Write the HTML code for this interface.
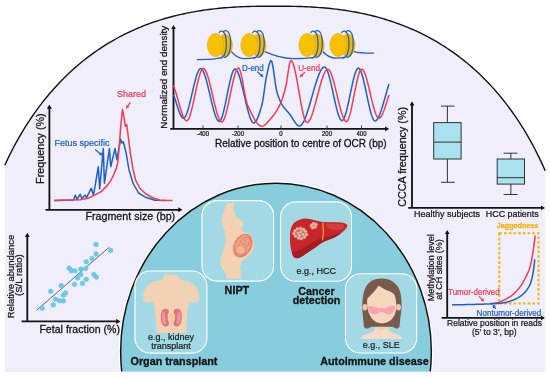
<!DOCTYPE html>
<html><head><meta charset="utf-8"><style>
html,body{margin:0;padding:0;background:#fff;width:550px;height:378px;overflow:hidden}
svg{display:block}
text{font-family:"Liberation Sans",Arial,sans-serif}
</style></head><body>
<svg width="550" height="378" viewBox="0 0 550 378">
<defs>
<clipPath id="lavclip"><rect x="5" y="0" width="540.5" height="372"/></clipPath>
<clipPath id="tealclip"><rect x="0" y="0" width="550" height="371.5"/></clipPath>
<marker id="ah" viewBox="0 0 10 10" refX="4" refY="5" markerWidth="4.3" markerHeight="5" preserveAspectRatio="none" orient="auto" markerUnits="userSpaceOnUse"><path d="M0,0 L10,5 L0,10 z" fill="#141414"/></marker>
<marker id="ahb" viewBox="0 0 10 10" refX="9" refY="5" markerWidth="4" markerHeight="4" orient="auto" markerUnits="userSpaceOnUse"><path d="M0,0 L10,5 L0,10 z" fill="#1f5fc8"/></marker>
<marker id="ahr" viewBox="0 0 10 10" refX="9" refY="5" markerWidth="4" markerHeight="4" orient="auto" markerUnits="userSpaceOnUse"><path d="M0,0 L10,5 L0,10 z" fill="#f43a4f"/></marker>
</defs>
<path d="M4.8,165.2 L7.52,159.39 L10.23,153.84 L12.95,148.52 L15.66,143.43 L18.38,138.54 L21.09,133.85 L23.81,129.33 L26.52,124.98 L29.24,120.79 L31.96,116.74 L34.67,112.84 L37.39,109.07 L40.1,105.43 L42.82,101.91 L45.53,98.5 L48.25,95.2 L50.96,92.01 L53.68,88.92 L56.4,85.92 L59.11,83.02 L61.83,80.21 L64.54,77.48 L67.26,74.83 L69.97,72.27 L72.69,69.78 L75.41,67.37 L78.12,65.03 L80.84,62.75 L83.55,60.55 L86.27,58.41 L88.98,56.34 L91.7,54.33 L94.41,52.37 L97.13,50.48 L99.85,48.64 L102.56,46.86 L105.28,45.14 L107.99,43.46 L110.71,41.84 L113.42,40.27 L116.14,38.74 L118.85,37.26 L121.57,35.83 L124.29,34.45 L127,33.11 L129.72,31.81 L132.43,30.56 L135.15,29.35 L137.86,28.18 L140.58,27.04 L143.29,25.95 L146.01,24.9 L148.73,23.88 L151.44,22.9 L154.16,21.95 L156.87,21.04 L159.59,20.17 L162.3,19.32 L165.02,18.52 L167.73,17.74 L170.45,16.99 L173.17,16.28 L175.88,15.6 L178.6,14.94 L181.31,14.32 L184.03,13.72 L186.74,13.15 L189.46,12.61 L192.17,12.1 L194.89,11.61 L197.61,11.15 L200.32,10.71 L203.04,10.3 L205.75,9.91 L208.47,9.55 L211.18,9.2 L213.9,8.88 L216.62,8.58 L219.33,8.31 L222.05,8.05 L224.76,7.81 L227.48,7.6 L230.19,7.4 L232.91,7.22 L235.62,7.05 L238.34,6.91 L241.06,6.78 L243.77,6.66 L246.49,6.56 L249.2,6.47 L251.92,6.4 L254.63,6.34 L257.35,6.29 L260.06,6.26 L262.78,6.23 L265.5,6.21 L268.21,6.2 L270.93,6.19 L273.64,6.19 L276.36,6.19 L279.07,6.2 L281.79,6.21 L284.5,6.23 L287.22,6.25 L289.94,6.29 L292.65,6.34 L295.37,6.4 L298.08,6.47 L300.8,6.55 L303.51,6.65 L306.23,6.76 L308.94,6.89 L311.66,7.04 L314.38,7.2 L317.09,7.38 L319.81,7.58 L322.52,7.79 L325.24,8.03 L327.95,8.28 L330.67,8.56 L333.38,8.85 L336.1,9.17 L338.82,9.51 L341.53,9.88 L344.25,10.26 L346.96,10.67 L349.68,11.11 L352.39,11.57 L355.11,12.05 L357.83,12.56 L360.54,13.1 L363.26,13.67 L365.97,14.26 L368.69,14.88 L371.4,15.53 L374.12,16.21 L376.83,16.93 L379.55,17.67 L382.27,18.44 L384.98,19.25 L387.7,20.09 L390.41,20.96 L393.13,21.87 L395.84,22.81 L398.56,23.78 L401.27,24.8 L403.99,25.85 L406.71,26.94 L409.42,28.07 L412.14,29.24 L414.85,30.44 L417.57,31.69 L420.28,32.99 L423,34.32 L425.71,35.7 L428.43,37.13 L431.15,38.6 L433.86,40.12 L436.58,41.69 L439.29,43.31 L442.01,44.98 L444.72,46.7 L447.44,48.47 L450.15,50.31 L452.87,52.19 L455.59,54.14 L458.3,56.15 L461.02,58.21 L463.73,60.35 L466.45,62.54 L469.16,64.81 L471.88,67.14 L474.59,69.55 L477.31,72.03 L480.03,74.59 L482.74,77.23 L485.46,79.94 L488.17,82.75 L490.89,85.64 L493.6,88.63 L496.32,91.71 L499.04,94.9 L501.75,98.18 L504.47,101.58 L507.18,105.09 L509.9,108.72 L512.61,112.48 L515.33,116.37 L518.04,120.4 L520.76,124.58 L523.48,128.91 L526.19,133.42 L528.91,138.09 L531.62,142.96 L534.34,148.04 L537.05,153.33 L539.77,158.86 L542.48,164.64 L545.2,170.71 L545.2,372 L4.8,372 Z" fill="#efeefa"/>
<path d="M4.8,165.2 L7.52,159.39 L10.23,153.84 L12.95,148.52 L15.66,143.43 L18.38,138.54 L21.09,133.85 L23.81,129.33 L26.52,124.98 L29.24,120.79 L31.96,116.74 L34.67,112.84 L37.39,109.07 L40.1,105.43 L42.82,101.91 L45.53,98.5 L48.25,95.2 L50.96,92.01 L53.68,88.92 L56.4,85.92 L59.11,83.02 L61.83,80.21 L64.54,77.48 L67.26,74.83 L69.97,72.27 L72.69,69.78 L75.41,67.37 L78.12,65.03 L80.84,62.75 L83.55,60.55 L86.27,58.41 L88.98,56.34 L91.7,54.33 L94.41,52.37 L97.13,50.48 L99.85,48.64 L102.56,46.86 L105.28,45.14 L107.99,43.46 L110.71,41.84 L113.42,40.27 L116.14,38.74 L118.85,37.26 L121.57,35.83 L124.29,34.45 L127,33.11 L129.72,31.81 L132.43,30.56 L135.15,29.35 L137.86,28.18 L140.58,27.04 L143.29,25.95 L146.01,24.9 L148.73,23.88 L151.44,22.9 L154.16,21.95 L156.87,21.04 L159.59,20.17 L162.3,19.32 L165.02,18.52 L167.73,17.74 L170.45,16.99 L173.17,16.28 L175.88,15.6 L178.6,14.94 L181.31,14.32 L184.03,13.72 L186.74,13.15 L189.46,12.61 L192.17,12.1 L194.89,11.61 L197.61,11.15 L200.32,10.71 L203.04,10.3 L205.75,9.91 L208.47,9.55 L211.18,9.2 L213.9,8.88 L216.62,8.58 L219.33,8.31 L222.05,8.05 L224.76,7.81 L227.48,7.6 L230.19,7.4 L232.91,7.22 L235.62,7.05 L238.34,6.91 L241.06,6.78 L243.77,6.66 L246.49,6.56 L249.2,6.47 L251.92,6.4 L254.63,6.34 L257.35,6.29 L260.06,6.26 L262.78,6.23 L265.5,6.21 L268.21,6.2 L270.93,6.19 L273.64,6.19 L276.36,6.19 L279.07,6.2 L281.79,6.21 L284.5,6.23 L287.22,6.25 L289.94,6.29 L292.65,6.34 L295.37,6.4 L298.08,6.47 L300.8,6.55 L303.51,6.65 L306.23,6.76 L308.94,6.89 L311.66,7.04 L314.38,7.2 L317.09,7.38 L319.81,7.58 L322.52,7.79 L325.24,8.03 L327.95,8.28 L330.67,8.56 L333.38,8.85 L336.1,9.17 L338.82,9.51 L341.53,9.88 L344.25,10.26 L346.96,10.67 L349.68,11.11 L352.39,11.57 L355.11,12.05 L357.83,12.56 L360.54,13.1 L363.26,13.67 L365.97,14.26 L368.69,14.88 L371.4,15.53 L374.12,16.21 L376.83,16.93 L379.55,17.67 L382.27,18.44 L384.98,19.25 L387.7,20.09 L390.41,20.96 L393.13,21.87 L395.84,22.81 L398.56,23.78 L401.27,24.8 L403.99,25.85 L406.71,26.94 L409.42,28.07 L412.14,29.24 L414.85,30.44 L417.57,31.69 L420.28,32.99 L423,34.32 L425.71,35.7 L428.43,37.13 L431.15,38.6 L433.86,40.12 L436.58,41.69 L439.29,43.31 L442.01,44.98 L444.72,46.7 L447.44,48.47 L450.15,50.31 L452.87,52.19 L455.59,54.14 L458.3,56.15 L461.02,58.21 L463.73,60.35 L466.45,62.54 L469.16,64.81 L471.88,67.14 L474.59,69.55 L477.31,72.03 L480.03,74.59 L482.74,77.23 L485.46,79.94 L488.17,82.75 L490.89,85.64 L493.6,88.63 L496.32,91.71 L499.04,94.9 L501.75,98.18 L504.47,101.58 L507.18,105.09 L509.9,108.72 L512.61,112.48 L515.33,116.37 L518.04,120.4 L520.76,124.58 L523.48,128.91 L526.19,133.42 L528.91,138.09 L531.62,142.96 L534.34,148.04 L537.05,153.33 L539.77,158.86 L542.48,164.64 L545.2,170.71" fill="none" stroke="#141414" stroke-width="1.4"/>
<g clip-path="url(#tealclip)"><ellipse cx="276" cy="351.5" rx="155.35" ry="168.35" fill="none" stroke="#ffffff" stroke-width="4"/><ellipse cx="276" cy="351.5" rx="155.35" ry="168.35" fill="#88cddd" stroke="#141414" stroke-width="1.5"/></g>
<line x1="173.5" y1="128.9" x2="173.50" y2="27.58" stroke="#141414" stroke-width="1.85" marker-end="url(#ah)"/>
<line x1="170.2" y1="128.9" x2="386.52" y2="128.90" stroke="#141414" stroke-width="1.85" marker-end="url(#ah)"/>
<line x1="203" y1="125.5" x2="203" y2="128.5" stroke="#141414" stroke-width="0.8"/>
<line x1="238" y1="125.5" x2="238" y2="128.5" stroke="#141414" stroke-width="0.8"/>
<line x1="281" y1="125.5" x2="281" y2="128.5" stroke="#141414" stroke-width="0.8"/>
<line x1="327" y1="125.5" x2="327" y2="128.5" stroke="#141414" stroke-width="0.8"/>
<line x1="361.5" y1="125.5" x2="361.5" y2="128.5" stroke="#141414" stroke-width="0.8"/>
<text transform="translate(203,135.6) scale(1,1.07)" font-size="6" text-anchor="middle" fill="#141414" stroke="#141414" stroke-width="0.22">-400</text>
<text transform="translate(238,135.6) scale(1,1.07)" font-size="6" text-anchor="middle" fill="#141414" stroke="#141414" stroke-width="0.22">-200</text>
<text transform="translate(281,135.6) scale(1,1.07)" font-size="6" text-anchor="middle" fill="#141414" stroke="#141414" stroke-width="0.22">0</text>
<text transform="translate(327,135.6) scale(1,1.07)" font-size="6" text-anchor="middle" fill="#141414" stroke="#141414" stroke-width="0.22">200</text>
<text transform="translate(361.5,135.6) scale(1,1.07)" font-size="6" text-anchor="middle" fill="#141414" stroke="#141414" stroke-width="0.22">400</text>
<text transform="translate(300.8,146.5) scale(1,1.07)" font-size="10" text-anchor="middle" fill="#141414" stroke="#141414" stroke-width="0.28">Relative position to centre of OCR (bp)</text>
<text transform="translate(166.9,77.2) rotate(-90)" font-size="9.86" text-anchor="middle" fill="#141414" stroke="#141414" stroke-width="0.28">Normalized end density</text>
<path d="M173.5,94.85 L174.22,96.8 L174.94,98.89 L175.66,101.09 L176.38,103.33 L177.1,105.57 L177.82,107.78 L178.55,109.89 L179.27,111.86 L179.99,113.65 L180.71,115.21 L181.43,116.49 L182.15,117.44 L182.87,118.03 L183.59,118.2 L184.31,117.88 L185.03,117.09 L185.75,115.87 L186.47,114.26 L187.19,112.31 L187.91,110.06 L188.64,107.55 L189.36,104.84 L190.08,101.96 L190.8,98.95 L191.52,95.87 L192.24,92.75 L192.96,89.64 L193.68,86.58 L194.4,83.61 L195.12,80.79 L195.84,78.15 L196.56,75.74 L197.28,73.6 L198.01,71.78 L198.73,70.31 L199.45,69.25 L200.17,68.64 L200.89,68.52 L201.61,68.87 L202.33,69.66 L203.05,70.84 L203.77,72.39 L204.49,74.26 L205.21,76.41 L205.93,78.8 L206.65,81.41 L207.37,84.19 L208.1,87.1 L208.82,90.11 L209.54,93.18 L210.26,96.27 L210.98,99.34 L211.7,102.36 L212.42,105.29 L213.14,108.09 L213.86,110.73 L214.58,113.16 L215.3,115.35 L216.02,117.26 L216.74,118.85 L217.46,120.09 L218.19,120.94 L218.91,121.36 L219.63,121.29 L220.35,120.61 L221.07,119.37 L221.79,117.64 L222.51,115.46 L223.23,112.91 L223.95,110.03 L224.67,106.9 L225.39,103.56 L226.11,100.08 L226.83,96.52 L227.56,92.94 L228.28,89.39 L229,85.95 L229.72,82.66 L230.44,79.58 L231.16,76.79 L231.88,74.32 L232.6,72.26 L233.32,70.65 L234.04,69.55 L234.76,69.04 L235.48,69.11 L236.2,69.64 L236.92,70.58 L237.65,71.91 L238.37,73.57 L239.09,75.55 L239.81,77.79 L240.53,80.26 L241.25,82.93 L241.97,85.76 L242.69,88.72 L243.41,91.76 L244.13,94.85 L244.85,97.95 L245.57,101.03 L246.29,104.05 L247.02,106.98 L247.74,109.77 L248.46,112.39 L249.18,114.81 L249.9,116.99 L250.62,118.88 L251.34,120.47 L252.06,121.7 L252.78,122.54 L253.5,122.96 L254.22,122.93 L254.94,122.5 L255.66,121.71 L256.38,120.59 L257.11,119.18 L257.83,117.52 L258.55,115.64 L259.27,113.57 L259.99,111.35 L260.71,109.02 L261.43,106.6 L262.15,104.05 L262.87,100.38 L263.59,95.7 L264.31,90.51 L265.03,85.27 L265.75,80.48 L266.47,76.61 L267.2,73.3 L267.92,69.9 L268.64,66.67 L269.36,63.9 L270.08,61.82 L270.8,60.71 L271.52,60.97 L272.24,63.11 L272.96,66.75 L273.68,71.41 L274.4,76.6 L275.12,81.85 L275.84,86.67 L276.57,90.58 L277.29,93.23 L278.01,95.42 L278.73,97.42 L279.45,99.24 L280.17,100.91 L280.89,102.42 L281.61,103.8 L282.33,105.05 L283.05,106.19 L283.77,107.24 L284.49,108.2 L285.21,109.09 L285.93,109.94 L286.66,110.75 L287.38,111.56 L288.1,112.36 L288.82,113.19 L289.54,114.05 L290.26,114.99 L290.98,116.03 L291.7,117.13 L292.42,118.27 L293.14,119.42 L293.86,120.56 L294.58,121.66 L295.3,122.69 L296.03,123.63 L296.75,124.44 L297.47,125.12 L298.19,125.62 L298.91,125.92 L299.63,126 L300.35,125.8 L301.07,125.33 L301.79,124.6 L302.51,123.64 L303.23,122.45 L303.95,121.05 L304.67,119.46 L305.39,117.71 L306.12,115.79 L306.84,113.74 L307.56,111.57 L308.28,109.29 L309,106.92 L309.72,104.48 L310.44,101.99 L311.16,99.47 L311.88,96.92 L312.6,94.37 L313.32,91.83 L314.04,89.33 L314.76,86.87 L315.48,84.48 L316.21,82.17 L316.93,79.96 L317.65,77.87 L318.37,75.91 L319.09,74.1 L319.81,72.45 L320.53,70.99 L321.25,69.73 L321.97,68.69 L322.69,67.88 L323.41,67.32 L324.13,67.04 L324.85,67.07 L325.58,67.58 L326.3,68.58 L327.02,70.01 L327.74,71.82 L328.46,73.99 L329.18,76.45 L329.9,79.16 L330.62,82.08 L331.34,85.17 L332.06,88.37 L332.78,91.65 L333.5,94.96 L334.22,98.26 L334.94,101.49 L335.67,104.62 L336.39,107.59 L337.11,110.37 L337.83,112.91 L338.55,115.17 L339.27,117.09 L339.99,118.64 L340.71,119.77 L341.43,120.43 L342.15,120.59 L342.87,120.17 L343.59,119.21 L344.31,117.76 L345.04,115.87 L345.76,113.6 L346.48,111 L347.2,108.12 L347.92,105.02 L348.64,101.76 L349.36,98.37 L350.08,94.92 L350.8,91.47 L351.52,88.06 L352.24,84.75 L352.96,81.58 L353.68,78.63 L354.4,75.93 L355.13,73.54 L355.85,71.52 L356.57,69.92 L357.29,68.79 L358.01,68.19 L358.73,68.16 L359.45,68.71 L360.17,69.78 L360.89,71.32 L361.61,73.28 L362.33,75.6 L363.05,78.24 L363.77,81.14 L364.49,84.26 L365.22,87.53 L365.94,90.91 L366.66,94.35 L367.38,97.78 L368.1,101.17 L368.82,104.46 L369.54,107.6 L370.26,110.53 L370.98,113.2 L371.7,115.57 L372.42,117.57 L373.14,119.16 L373.86,120.29 L374.59,120.9 L375.31,120.97 L376.03,120.65 L376.75,120 L377.47,119.06 L378.19,117.85 L378.91,116.39 L379.63,114.7 L380.35,112.82 L381.07,110.77 L381.79,108.57 L382.51,106.24 L383.23,103.82 L383.95,101.33 L384.68,98.8 L385.4,96.24 L386.12,93.68 L386.84,91.15 L387.56,88.68 L388.28,86.29 L389,84" fill="none" stroke="#1f5fc8" stroke-width="1.5"/>
<path d="M173.5,85.59 L174.22,87.5 L174.94,89.61 L175.66,91.89 L176.38,94.29 L177.1,96.78 L177.82,99.33 L178.55,101.89 L179.27,104.44 L179.99,106.93 L180.71,109.33 L181.43,111.59 L182.15,113.7 L182.87,115.59 L183.59,117.26 L184.31,118.64 L185.03,119.71 L185.75,120.44 L186.47,120.78 L187.19,120.66 L187.91,120 L188.64,118.83 L189.36,117.21 L190.08,115.19 L190.8,112.81 L191.52,110.14 L192.24,107.22 L192.96,104.1 L193.68,100.83 L194.4,97.47 L195.12,94.07 L195.84,90.68 L196.56,87.35 L197.28,84.13 L198.01,81.07 L198.73,78.23 L199.45,75.65 L200.17,73.39 L200.89,71.49 L201.61,70.02 L202.33,69.02 L203.05,68.54 L203.77,68.6 L204.49,69.14 L205.21,70.09 L205.93,71.44 L206.65,73.13 L207.37,75.13 L208.1,77.4 L208.82,79.91 L209.54,82.62 L210.26,85.48 L210.98,88.46 L211.7,91.53 L212.42,94.64 L213.14,97.75 L213.86,100.84 L214.58,103.86 L215.3,106.77 L216.02,109.53 L216.74,112.12 L217.46,114.48 L218.19,116.58 L218.91,118.39 L219.63,119.86 L220.35,120.96 L221.07,121.66 L221.79,121.9 L222.51,121.62 L223.23,120.78 L223.95,119.45 L224.67,117.67 L225.39,115.49 L226.11,112.97 L226.83,110.16 L227.56,107.11 L228.28,103.87 L229,100.5 L229.72,97.04 L230.44,93.56 L231.16,90.09 L231.88,86.7 L232.6,83.43 L233.32,80.34 L234.04,77.47 L234.76,74.89 L235.48,72.64 L236.2,70.78 L236.92,69.35 L237.65,68.41 L238.37,68.01 L239.09,68.36 L239.81,69.71 L240.53,71.9 L241.25,74.78 L241.97,78.19 L242.69,81.96 L243.41,85.94 L244.13,89.98 L244.85,93.9 L245.57,97.55 L246.29,100.77 L247.02,103.4 L247.74,105.31 L248.46,106.93 L249.18,108.54 L249.9,110.13 L250.62,111.69 L251.34,113.21 L252.06,114.69 L252.78,116.12 L253.5,117.49 L254.22,118.78 L254.94,120.01 L255.66,121.14 L256.38,122.19 L257.11,123.13 L257.83,123.97 L258.55,124.69 L259.27,125.29 L259.99,125.76 L260.71,126.09 L261.43,126.27 L262.15,126.29 L262.87,126.14 L263.59,125.83 L264.31,125.39 L265.03,124.83 L265.75,124.17 L266.47,123.45 L267.2,122.66 L267.92,121.85 L268.64,121.02 L269.36,120.2 L270.08,119.42 L270.8,118.62 L271.52,117.8 L272.24,116.93 L272.96,116.02 L273.68,115.07 L274.4,114.07 L275.12,113.02 L275.84,111.92 L276.57,110.76 L277.29,109.55 L278.01,108.28 L278.73,106.94 L279.45,105.54 L280.17,104.07 L280.89,102.46 L281.61,100.66 L282.33,98.66 L283.05,96.5 L283.77,94.17 L284.49,91.69 L285.21,89.07 L285.93,86.1 L286.66,82.06 L287.38,77.32 L288.1,72.39 L288.82,67.75 L289.54,63.89 L290.26,61.32 L290.98,60.5 L291.7,60.95 L292.42,62.06 L293.14,63.78 L293.86,66.04 L294.58,68.76 L295.3,71.9 L296.03,75.37 L296.75,79.12 L297.47,83.06 L298.19,87.15 L298.91,91.31 L299.63,95.47 L300.35,99.57 L301.07,103.53 L301.79,107.3 L302.51,110.81 L303.23,113.99 L303.95,116.77 L304.67,119.09 L305.39,120.87 L306.12,122.06 L306.84,122.58 L307.56,122.49 L308.28,122.02 L309,121.22 L309.72,120.1 L310.44,118.7 L311.16,117.05 L311.88,115.16 L312.6,113.07 L313.32,110.8 L314.04,108.38 L314.76,105.83 L315.48,103.19 L316.21,100.48 L316.93,97.72 L317.65,94.95 L318.37,92.18 L319.09,89.45 L319.81,86.79 L320.53,84.21 L321.25,81.75 L321.97,79.43 L322.69,77.28 L323.41,75.32 L324.13,73.59 L324.85,72.11 L325.58,70.9 L326.3,70 L327.02,69.42 L327.74,69.2 L328.46,69.39 L329.18,70.02 L329.9,71.05 L330.62,72.44 L331.34,74.17 L332.06,76.18 L332.78,78.45 L333.5,80.94 L334.22,83.61 L334.94,86.42 L335.67,89.35 L336.39,92.35 L337.11,95.38 L337.83,98.41 L338.55,101.41 L339.27,104.33 L339.99,107.15 L340.71,109.81 L341.43,112.3 L342.15,114.56 L342.87,116.57 L343.59,118.29 L344.31,119.67 L345.04,120.7 L345.76,121.32 L346.48,121.5 L347.2,121.09 L347.92,120.06 L348.64,118.47 L349.36,116.39 L350.08,113.88 L350.8,111.01 L351.52,107.84 L352.24,104.45 L352.96,100.88 L353.68,97.23 L354.4,93.53 L355.13,89.87 L355.85,86.31 L356.57,82.91 L357.29,79.74 L358.01,76.87 L358.73,74.35 L359.45,72.26 L360.17,70.66 L360.89,69.62 L361.61,69.21 L362.33,69.39 L363.05,70.06 L363.77,71.17 L364.49,72.66 L365.22,74.5 L365.94,76.65 L366.66,79.06 L367.38,81.69 L368.1,84.5 L368.82,87.44 L369.54,90.46 L370.26,93.53 L370.98,96.61 L371.7,99.64 L372.42,102.59 L373.14,105.41 L373.86,108.06 L374.59,110.5 L375.31,112.68 L376.03,114.55 L376.75,116.09 L377.47,117.24 L378.19,117.96 L378.91,118.2 L379.63,118 L380.35,117.45 L381.07,116.57 L381.79,115.39 L382.51,113.96 L383.23,112.31 L383.95,110.47 L384.68,108.47 L385.4,106.35 L386.12,104.14 L386.84,101.87 L387.56,99.59 L388.28,97.32 L389,95.1" fill="none" stroke="#f43a4f" stroke-width="1.5"/>
<text transform="translate(242,71.2) scale(1,1.07)" font-size="8" fill="#1f5fc8" stroke="#1f5fc8" stroke-width="0.22">D-end</text>
<line x1="257.2" y1="71.6" x2="261.33" y2="75.27" stroke="#1f5fc8" stroke-width="1.2"/>
<path d="M263.50,77.20 L259.73,76.32 L262.19,73.56 Z" fill="#1f5fc8"/>
<text transform="translate(298.2,71.2) scale(1,1.07)" font-size="8" fill="#f43a4f" stroke="#f43a4f" stroke-width="0.22">U-end</text>
<line x1="304.9" y1="72.3" x2="301.71" y2="75.31" stroke="#f43a4f" stroke-width="1.2"/>
<path d="M299.60,77.30 L300.80,73.62 L303.34,76.31 Z" fill="#f43a4f"/>
<path d="M197.3,59.6 C207,59.6 214,59.8 221.5,57.4 M231.4,51.7 C234,55 238,58.5 244,58.6 C248,58.6 252,58.2 255.1,57.4 M265,51.7 C272,55 282,58.4 293,58.6 C302,58.6 308,58.4 313.2,57.4 M323.1,51.7 C326,55 330,58 336,58.2 C339.5,58.2 342,57.9 344.1,57.4 M354,51.7 C360,53.3 366,53.3 373.5,53.2" fill="none" stroke="#1f5fc8" stroke-width="1.3" stroke-linecap="round"/>
<ellipse cx="225.0" cy="45.3" rx="7.6" ry="11.4" fill="#f3b800" stroke="#e0a200" stroke-width="0.3"/>
<ellipse cx="215.5" cy="45" rx="8.3" ry="11.6" fill="#f8c100" stroke="#e0a200" stroke-width="0.45"/>
<path d="M219.20,32.60 C220.00,30.40 223.60,30.40 225.10,34.50 C226.70,39.00 226.90,47.00 225.40,52.00 C224.50,55.50 222.50,57.80 220.10,58.10" fill="none" stroke="#1f5fc8" stroke-width="1.25" stroke-linecap="round"/>
<path d="M223.40,32.00 C224.20,29.80 227.80,29.80 229.30,33.90 C230.90,38.40 231.10,46.40 229.60,51.40 C228.70,54.90 226.70,57.20 224.30,57.50" fill="none" stroke="#1f5fc8" stroke-width="1.25" stroke-linecap="round"/>
<ellipse cx="258.6" cy="45.3" rx="7.6" ry="11.4" fill="#f3b800" stroke="#e0a200" stroke-width="0.3"/>
<ellipse cx="249.1" cy="45" rx="8.3" ry="11.6" fill="#f8c100" stroke="#e0a200" stroke-width="0.45"/>
<path d="M252.80,32.60 C253.60,30.40 257.20,30.40 258.70,34.50 C260.30,39.00 260.50,47.00 259.00,52.00 C258.10,55.50 256.10,57.80 253.70,58.10" fill="none" stroke="#1f5fc8" stroke-width="1.25" stroke-linecap="round"/>
<path d="M257.00,32.00 C257.80,29.80 261.40,29.80 262.90,33.90 C264.50,38.40 264.70,46.40 263.20,51.40 C262.30,54.90 260.30,57.20 257.90,57.50" fill="none" stroke="#1f5fc8" stroke-width="1.25" stroke-linecap="round"/>
<ellipse cx="316.7" cy="45.3" rx="7.6" ry="11.4" fill="#f3b800" stroke="#e0a200" stroke-width="0.3"/>
<ellipse cx="307.2" cy="45" rx="8.3" ry="11.6" fill="#f8c100" stroke="#e0a200" stroke-width="0.45"/>
<path d="M310.90,32.60 C311.70,30.40 315.30,30.40 316.80,34.50 C318.40,39.00 318.60,47.00 317.10,52.00 C316.20,55.50 314.20,57.80 311.80,58.10" fill="none" stroke="#1f5fc8" stroke-width="1.25" stroke-linecap="round"/>
<path d="M315.10,32.00 C315.90,29.80 319.50,29.80 321.00,33.90 C322.60,38.40 322.80,46.40 321.30,51.40 C320.40,54.90 318.40,57.20 316.00,57.50" fill="none" stroke="#1f5fc8" stroke-width="1.25" stroke-linecap="round"/>
<ellipse cx="347.6" cy="45.3" rx="7.6" ry="11.4" fill="#f3b800" stroke="#e0a200" stroke-width="0.3"/>
<ellipse cx="338.1" cy="45" rx="8.3" ry="11.6" fill="#f8c100" stroke="#e0a200" stroke-width="0.45"/>
<path d="M341.80,32.60 C342.60,30.40 346.20,30.40 347.70,34.50 C349.30,39.00 349.50,47.00 348.00,52.00 C347.10,55.50 345.10,57.80 342.70,58.10" fill="none" stroke="#1f5fc8" stroke-width="1.25" stroke-linecap="round"/>
<path d="M346.00,32.00 C346.80,29.80 350.40,29.80 351.90,33.90 C353.50,38.40 353.70,46.40 352.20,51.40 C351.30,54.90 349.30,57.20 346.90,57.50" fill="none" stroke="#1f5fc8" stroke-width="1.25" stroke-linecap="round"/>
<line x1="49.4" y1="209.8" x2="49.40" y2="106.98" stroke="#141414" stroke-width="1.85" marker-end="url(#ah)"/>
<line x1="45.5" y1="209.8" x2="179.92" y2="209.80" stroke="#141414" stroke-width="1.85" marker-end="url(#ah)"/>
<text transform="translate(44.2,148.6) rotate(-90)" font-size="10.77" text-anchor="middle" fill="#141414" stroke="#141414" stroke-width="0.28">Frequency (%)</text>
<text transform="translate(130.3,220) scale(1,1.07)" font-size="10.7" text-anchor="middle" fill="#141414" stroke="#141414" stroke-width="0.28">Fragment size (bp)</text>
<path d="M54,200.4 L73.5,200 L75.4,195.2 L77,199.5 L80.2,194.2 L81.8,198.5 L85,195.2 L86.6,197.5 L91.3,188.2 L93.5,195.5 L98.3,166.7 L99.7,188.9 L103.3,148.6 L104.4,183.3 L109.4,148.6 L110.8,166.7 L115,148.6 L116.9,159.7 L120.6,138.9 L121.9,143 L123.3,141.7 L126.1,152.8 L128.9,169.4 L133,183.3 L138.6,193 L145.4,197.2 L155,200.2 L166,200.6" fill="none" stroke="#1f5fc8" stroke-width="1.5" stroke-linejoin="round"/>
<path d="M54,200.4 L80,199.8 L88,198.3 L95.6,194.6 L101.1,191.7 L106.7,186.1 L110.8,180.6 L113.6,175 L116.4,168 L117.8,162.5 L119.2,147.2 L120.6,127.8 L122.5,109.5 L123.9,116.7 L125.3,126.2 L126.7,124.6 L128,134.7 L130.3,152.8 L133,169.4 L135.8,180.6 L140,188.5 L145.4,193.5 L152,197.5 L160,200.2 L172.6,200.4" fill="none" stroke="#f43a4f" stroke-width="1.5" stroke-linejoin="round"/>
<text transform="translate(54.4,146) scale(1,1.07)" font-size="9" fill="#1f5fc8" stroke="#1f5fc8" stroke-width="0.22">Fetus specific</text>
<line x1="95.2" y1="149.5" x2="100.57" y2="153.95" stroke="#1f5fc8" stroke-width="1.2"/>
<path d="M102.80,155.80 L99.00,155.05 L101.36,152.21 Z" fill="#1f5fc8"/>
<text transform="translate(117.1,97.3) scale(1,1.07)" font-size="9" fill="#f43a4f" stroke="#f43a4f" stroke-width="0.22">Shared</text>
<line x1="130.4" y1="102.3" x2="127.63" y2="106.40" stroke="#f43a4f" stroke-width="1.2"/>
<path d="M126.00,108.80 L126.37,104.95 L129.44,107.02 Z" fill="#f43a4f"/>
<line x1="412" y1="207.9" x2="412.00" y2="103.88" stroke="#141414" stroke-width="1.85" marker-end="url(#ah)"/>
<line x1="408.2" y1="207.9" x2="542.42" y2="207.90" stroke="#141414" stroke-width="1.85" marker-end="url(#ah)"/>
<text transform="translate(406.3,156.8) rotate(-90)" font-size="10.75" text-anchor="middle" fill="#141414" stroke="#141414" stroke-width="0.28">CCCA frequency (%)</text>
<text transform="translate(414.1,217.4) scale(1,1.07)" font-size="9" fill="#141414" stroke="#141414" stroke-width="0.22">Healthy subjects</text>
<text transform="translate(485.8,217.4) scale(1,1.07)" font-size="8.9" fill="#141414" stroke="#141414" stroke-width="0.22">HCC patients</text>
<line x1="447.4" y1="106.1" x2="447.4" y2="182.3" stroke="#333" stroke-width="1"/>
<line x1="441" y1="106.1" x2="454.7" y2="106.1" stroke="#333" stroke-width="1"/>
<line x1="441" y1="182.3" x2="454.7" y2="182.3" stroke="#333" stroke-width="1"/>
<rect x="433.7" y="122.6" width="27.400000000000034" height="36.400000000000006" fill="#a9e1ef" stroke="#333" stroke-width="1"/>
<line x1="433.7" y1="142.1" x2="461.1" y2="142.1" stroke="#333" stroke-width="1"/>
<line x1="510.85" y1="153.2" x2="510.85" y2="194.5" stroke="#333" stroke-width="1"/>
<line x1="503.6" y1="153.2" x2="517.5" y2="153.2" stroke="#333" stroke-width="1"/>
<line x1="503.6" y1="194.5" x2="517.5" y2="194.5" stroke="#333" stroke-width="1"/>
<rect x="497.2" y="159" width="27.30000000000001" height="25.099999999999994" fill="#a9e1ef" stroke="#333" stroke-width="1"/>
<line x1="497.2" y1="177.7" x2="524.5" y2="177.7" stroke="#333" stroke-width="1"/>
<line x1="27.3" y1="321.4" x2="27.30" y2="235.38" stroke="#141414" stroke-width="1.85" marker-end="url(#ah)"/>
<line x1="21.6" y1="321.4" x2="117.92" y2="321.40" stroke="#141414" stroke-width="1.85" marker-end="url(#ah)"/>
<text transform="translate(13.9,276.5) rotate(-90)" font-size="9.45" text-anchor="middle" fill="#141414" stroke="#141414" stroke-width="0.22">Relative abundance</text>
<text transform="translate(22.4,275.1) rotate(-90)" font-size="9.6" text-anchor="middle" fill="#141414" stroke="#141414" stroke-width="0.28">(S/L ratio)</text>
<text transform="translate(39.4,332.6) scale(1,1.07)" font-size="10.6" fill="#141414" stroke="#141414" stroke-width="0.28">Fetal fraction (%)</text>
<line x1="36.5" y1="310.4" x2="109.4" y2="247" stroke="#4a4a4a" stroke-width="0.85"/>
<circle cx="42.17" cy="308.14" r="2.35" fill="#6ccbea" stroke="#52badf" stroke-width="0.4"/>
<circle cx="53.27" cy="304.97" r="2.35" fill="#6ccbea" stroke="#52badf" stroke-width="0.4"/>
<circle cx="55.49" cy="299.26" r="2.35" fill="#6ccbea" stroke="#52badf" stroke-width="0.4"/>
<circle cx="59.61" cy="300.85" r="2.35" fill="#6ccbea" stroke="#52badf" stroke-width="0.4"/>
<circle cx="63.41" cy="300.85" r="2.35" fill="#6ccbea" stroke="#52badf" stroke-width="0.4"/>
<circle cx="63.41" cy="295.14" r="2.35" fill="#6ccbea" stroke="#52badf" stroke-width="0.4"/>
<circle cx="65.63" cy="292.92" r="2.35" fill="#6ccbea" stroke="#52badf" stroke-width="0.4"/>
<circle cx="50.73" cy="291.34" r="2.35" fill="#6ccbea" stroke="#52badf" stroke-width="0.4"/>
<circle cx="61.19" cy="285.63" r="2.35" fill="#6ccbea" stroke="#52badf" stroke-width="0.4"/>
<circle cx="74.51" cy="284.36" r="2.35" fill="#6ccbea" stroke="#52badf" stroke-width="0.4"/>
<circle cx="82.44" cy="283.41" r="2.35" fill="#6ccbea" stroke="#52badf" stroke-width="0.4"/>
<circle cx="86.24" cy="279.29" r="2.35" fill="#6ccbea" stroke="#52badf" stroke-width="0.4"/>
<circle cx="77.68" cy="278.02" r="2.35" fill="#6ccbea" stroke="#52badf" stroke-width="0.4"/>
<circle cx="80.85" cy="274.53" r="2.35" fill="#6ccbea" stroke="#52badf" stroke-width="0.4"/>
<circle cx="93.85" cy="274.53" r="2.35" fill="#6ccbea" stroke="#52badf" stroke-width="0.4"/>
<circle cx="96.39" cy="277.07" r="2.35" fill="#6ccbea" stroke="#52badf" stroke-width="0.4"/>
<circle cx="69.12" cy="268.19" r="2.35" fill="#6ccbea" stroke="#52badf" stroke-width="0.4"/>
<circle cx="71.34" cy="270.73" r="2.35" fill="#6ccbea" stroke="#52badf" stroke-width="0.4"/>
<circle cx="74.83" cy="270.73" r="2.35" fill="#6ccbea" stroke="#52badf" stroke-width="0.4"/>
<circle cx="80.85" cy="269.14" r="2.35" fill="#6ccbea" stroke="#52badf" stroke-width="0.4"/>
<circle cx="85.61" cy="268.51" r="2.35" fill="#6ccbea" stroke="#52badf" stroke-width="0.4"/>
<circle cx="86.24" cy="261.85" r="2.35" fill="#6ccbea" stroke="#52badf" stroke-width="0.4"/>
<circle cx="91.95" cy="258.68" r="2.35" fill="#6ccbea" stroke="#52badf" stroke-width="0.4"/>
<circle cx="96.07" cy="253.93" r="2.35" fill="#6ccbea" stroke="#52badf" stroke-width="0.4"/>
<circle cx="96.07" cy="244.41" r="2.35" fill="#6ccbea" stroke="#52badf" stroke-width="0.4"/>
<circle cx="110.65" cy="250.44" r="2.35" fill="#6ccbea" stroke="#52badf" stroke-width="0.4"/>
<line x1="447.2" y1="317.9" x2="447.20" y2="232.58" stroke="#141414" stroke-width="1.85" marker-end="url(#ah)"/>
<line x1="441.6" y1="317.9" x2="542.42" y2="317.90" stroke="#141414" stroke-width="1.85" marker-end="url(#ah)"/>
<text transform="rotate(-90) translate(-267.7,433.6)" font-size="9" text-anchor="middle" fill="#141414" stroke="#141414" stroke-width="0.22">Methylation level</text>
<text transform="rotate(-90) translate(-269.6,442.2)" font-size="9" text-anchor="middle" fill="#141414" stroke="#141414" stroke-width="0.22">at CH sites (%)</text>
<text transform="translate(494.5,326) scale(1,1.07)" font-size="8.5" text-anchor="middle" fill="#141414" stroke="#141414" stroke-width="0.22">Relative position in reads</text>
<text transform="translate(494.3,335.1) scale(1,1.07)" font-size="8.6" text-anchor="middle" fill="#141414" stroke="#141414" stroke-width="0.22">(5' to 3', bp)</text>
<rect x="499.3" y="233.3" width="39.2" height="70.1" fill="none" stroke="#f2b705" stroke-width="2" stroke-dasharray="2.6 2.1"/>
<text transform="translate(496.8,227.9) scale(1,1.07)" font-size="7.2" font-weight="bold" fill="#f2b705" stroke="#f2b705" stroke-width="0.3">Jaggedness</text>
<path d="M490,303.6 L490.38,303.56 L490.76,303.52 L491.14,303.48 L491.52,303.44 L491.9,303.4 L492.28,303.35 L492.66,303.31 L493.04,303.26 L493.42,303.22 L493.8,303.17 L494.18,303.12 L494.56,303.06 L494.94,303.01 L495.32,302.95 L495.7,302.89 L496.08,302.83 L496.46,302.76 L496.84,302.68 L497.22,302.61 L497.6,302.52 L497.98,302.43 L498.36,302.34 L498.74,302.23 L499.12,302.12 L499.5,302 L499.88,301.87 L500.26,301.74 L500.64,301.59 L501.02,301.44 L501.39,301.29 L501.77,301.12 L502.15,300.95 L502.53,300.78 L502.91,300.6 L503.29,300.41 L503.67,300.22 L504.05,300.03 L504.43,299.83 L504.81,299.63 L505.19,299.43 L505.57,299.23 L505.95,299.03 L506.33,298.82 L506.71,298.61 L507.09,298.4 L507.47,298.19 L507.85,297.98 L508.23,297.76 L508.61,297.54 L508.99,297.31 L509.37,297.08 L509.75,296.84 L510.13,296.6 L510.51,296.34 L510.89,296.09 L511.27,295.82 L511.65,295.54 L512.03,295.26 L512.41,294.97 L512.79,294.66 L513.17,294.35 L513.55,294.02 L513.93,293.68 L514.31,293.33 L514.69,292.97 L515.07,292.6 L515.45,292.22 L515.83,291.82 L516.21,291.42 L516.59,291.01 L516.97,290.59 L517.35,290.15 L517.73,289.72 L518.11,289.27 L518.49,288.82 L518.87,288.35 L519.25,287.88 L519.63,287.4 L520.01,286.91 L520.39,286.41 L520.77,285.89 L521.15,285.35 L521.53,284.79 L521.91,284.22 L522.29,283.62 L522.67,283 L523.05,282.35 L523.43,281.67 L523.81,280.97 L524.18,280.25 L524.56,279.51 L524.94,278.75 L525.32,277.97 L525.7,277.19 L526.08,276.4 L526.46,275.61 L526.84,274.82 L527.22,274.04 L527.6,273.25 L527.98,272.43 L528.36,271.58 L528.74,270.67 L529.12,269.68 L529.5,268.61 L529.88,267.42 L530.26,266.1 L530.64,264.63 L531.02,263.01 L531.4,261.24 L531.78,259.3 L532.16,257.2 L532.54,254.94 L532.92,252.52 L533.3,249.94 L533.68,247.22 L534.06,244.39 L534.44,241.47 L534.82,238.5 L535.2,235.5" fill="none" stroke="#f43a4f" stroke-width="1.5"/>
<path d="M452,304.9 L452.7,304.89 L453.39,304.87 L454.09,304.86 L454.78,304.84 L455.48,304.83 L456.17,304.81 L456.87,304.79 L457.57,304.78 L458.26,304.76 L458.96,304.75 L459.65,304.73 L460.35,304.72 L461.05,304.7 L461.74,304.69 L462.44,304.67 L463.13,304.66 L463.83,304.64 L464.52,304.63 L465.22,304.61 L465.92,304.59 L466.61,304.58 L467.31,304.56 L468,304.55 L468.7,304.53 L469.39,304.51 L470.09,304.5 L470.79,304.48 L471.48,304.46 L472.18,304.45 L472.87,304.43 L473.57,304.41 L474.27,304.4 L474.96,304.38 L475.66,304.36 L476.35,304.34 L477.05,304.32 L477.74,304.31 L478.44,304.29 L479.14,304.27 L479.83,304.25 L480.53,304.23 L481.22,304.21 L481.92,304.18 L482.62,304.16 L483.31,304.14 L484.01,304.12 L484.7,304.1 L485.4,304.07 L486.09,304.05 L486.79,304.02 L487.49,304 L488.18,303.97 L488.88,303.94 L489.57,303.92 L490.27,303.89 L490.96,303.86 L491.66,303.83 L492.36,303.8 L493.05,303.76 L493.75,303.73 L494.44,303.69 L495.14,303.65 L495.84,303.6 L496.53,303.56 L497.23,303.5 L497.92,303.45 L498.62,303.39 L499.31,303.32 L500.01,303.25 L500.71,303.17 L501.4,303.08 L502.1,302.99 L502.79,302.89 L503.49,302.78 L504.18,302.66 L504.88,302.53 L505.58,302.39 L506.27,302.24 L506.97,302.07 L507.66,301.9 L508.36,301.71 L509.06,301.51 L509.75,301.29 L510.45,301.07 L511.14,300.83 L511.84,300.58 L512.53,300.31 L513.23,300.04 L513.93,299.75 L514.62,299.44 L515.32,299.12 L516.01,298.79 L516.71,298.44 L517.41,298.07 L518.1,297.68 L518.8,297.27 L519.49,296.83 L520.19,296.37 L520.88,295.89 L521.58,295.37 L522.28,294.82 L522.97,294.22 L523.67,293.58 L524.36,292.89 L525.06,292.14 L525.75,291.33 L526.45,290.46 L527.15,289.5 L527.84,288.46 L528.54,287.32 L529.23,286.07 L529.93,284.65 L530.63,282.95 L531.32,280.85 L532.02,278.23 L532.71,274.91 L533.41,270.64 L534.1,265.3 L534.8,259.3" fill="none" stroke="#1f5fc8" stroke-width="1.5"/>
<text transform="translate(448.1,294.9) scale(1,1.07)" font-size="8" fill="#f43a4f" stroke="#f43a4f" stroke-width="0.22">Tumor-derived</text>
<line x1="478.8" y1="296.4" x2="482.27" y2="299.63" stroke="#f43a4f" stroke-width="1.2"/>
<path d="M484.40,301.60 L480.65,300.64 L483.17,297.93 Z" fill="#f43a4f"/>
<text transform="translate(476.6,315.6) scale(1,1.07)" font-size="8.1" fill="#1f5fc8" stroke="#1f5fc8" stroke-width="0.22">Nontumor-derived</text>
<line x1="495.7" y1="308.9" x2="494.23" y2="306.93" stroke="#1f5fc8" stroke-width="1.2"/>
<path d="M492.50,304.60 L496.01,306.22 L493.05,308.43 Z" fill="#1f5fc8"/>
<rect x="135" y="271" width="71.9" height="82.10000000000002" rx="15" ry="15" fill="#a3d8e5" stroke="#ffffff" stroke-width="1.1"/>
<rect x="202" y="200.6" width="71.60000000000002" height="80.50000000000003" rx="15" ry="15" fill="#a3d8e5" stroke="#ffffff" stroke-width="1.1"/>
<rect x="280.6" y="201.9" width="70.89999999999998" height="79.4" rx="15" ry="15" fill="#a3d8e5" stroke="#ffffff" stroke-width="1.1"/>
<rect x="345.5" y="273.8" width="71.19999999999999" height="79.19999999999999" rx="15" ry="15" fill="#a3d8e5" stroke="#ffffff" stroke-width="1.1"/>
<text transform="translate(236.9,294.1) scale(1,1.07)" font-size="10.8" font-weight="bold" text-anchor="middle" fill="#141414" stroke="#141414" stroke-width="0.3">NIPT</text>
<text transform="translate(316.5,294.8) scale(1,1.07)" font-size="10.7" font-weight="bold" text-anchor="middle" fill="#141414" stroke="#141414" stroke-width="0.3">Cancer</text>
<text transform="translate(316.5,304.3) scale(1,1.07)" font-size="10.7" font-weight="bold" text-anchor="middle" fill="#141414" stroke="#141414" stroke-width="0.3">detection</text>
<text transform="translate(130.5,364.5) scale(1,1.07)" font-size="10.8" font-weight="bold" fill="#141414" stroke="#141414" stroke-width="0.3">Organ transplant</text>
<text transform="translate(320.2,364.6) scale(1,1.07)" font-size="10.8" font-weight="bold" fill="#141414" stroke="#141414" stroke-width="0.3">Autoimmune disease</text>
<text transform="translate(171,339.9) scale(1,1.07)" font-size="9" text-anchor="middle" fill="#1c1c1c" stroke="#1c1c1c" stroke-width="0.22">e.g., kidney</text>
<text transform="translate(171,348.6) scale(1,1.07)" font-size="9" text-anchor="middle" fill="#1c1c1c" stroke="#1c1c1c" stroke-width="0.22">transplant</text>
<text transform="translate(316.2,273.6) scale(1,1.07)" font-size="9" text-anchor="middle" fill="#1c1c1c" stroke="#1c1c1c" stroke-width="0.22">e.g., HCC</text>
<text transform="translate(381.2,348.2) scale(1,1.07)" font-size="9" text-anchor="middle" fill="#1c1c1c" stroke="#1c1c1c" stroke-width="0.22">e.g., SLE</text>
<path d="M226.7,203.2 C226,206 225.2,208.5 223.8,211.5 C222.4,214.8 221.6,218 221.8,221.2 C222.2,225 223.4,227.5 224.2,230 C225.5,234 225.8,238 225.4,241.5 C225,245 224.6,247 223.6,250 C222.4,253.5 220.8,257 220.3,261.4 C220.5,265 222,267.5 223.5,270 C225,272.5 226.2,275 226.7,278.5 L241.5,278.5 C241.2,275 240.5,271.5 240.4,267.8 C240.5,264.5 241,262.5 242.5,260.6 C245.5,258 249.5,256 252.1,251.9 C254.2,248.5 254.6,244.5 253.9,241 C252.8,237.5 250,235 246.8,233.6 C244.5,232.5 242.2,231.5 241.6,229.7 C241.6,227.5 243.6,226.4 243.6,224.4 C243.4,222.3 241.8,220.8 239.8,219.3 C237,217.5 235,216.3 234.6,213.5 C234.2,210.5 233.2,208 233.5,205.5 L234.1,203.2 Z" fill="#f3d2b4"/>
<g transform="rotate(28 242.8 245.6)">
<ellipse cx="242.8" cy="245.6" rx="9.6" ry="13.2" fill="#f5c3a6"/>
<ellipse cx="242.8" cy="245.6" rx="8.7" ry="12.3" fill="#e67c68"/>
<ellipse cx="242.8" cy="245.6" rx="7.3" ry="10.9" fill="#f0a28c"/>
<ellipse cx="242.8" cy="250.6" rx="5.2" ry="4.6" fill="#f4b29b" stroke="#d9664f" stroke-width="0.6"/>
<path d="M239.5,246.5 C238.5,242 239.5,237.5 243,236.2 C246.5,235.5 247.8,238.5 246.6,240.5 C248,242 247.5,244.8 246,246.4" fill="#eea28b" stroke="#d9664f" stroke-width="0.6"/>
<path d="M241,240 C242.5,239.5 244,240.5 243.6,242 M240.8,243.5 C242.3,244.5 244.3,244.2 245.2,243" fill="none" stroke="#d9664f" stroke-width="0.5"/>
</g>
<path d="M290.3,231.8 C290.6,227.5 292.5,223.9 295.5,221.8 C298.5,219.9 301.5,218.8 304.8,218.6 C308,218.5 311.4,219.3 314.5,220.3 C317.5,221.2 320,221.8 324.6,221.9 L335.2,222.3 C339,222.4 343.1,222.6 345.2,223.4 C347,224.2 347.8,225.5 347.1,226.8 C346,229.5 344,231 341.8,232.5 C339.5,234.5 337.5,236 335.2,237.1 C332.5,238.5 330.5,239.3 328.6,239.8 C326.5,240.5 325,241 323.3,241.7 C320.5,243.2 318.7,244.8 316.7,246.4 C314,248.5 311.5,250 308.8,251.6 C306.5,253 304.5,255 302.2,256.3 C300,257.6 298.5,258.5 296.9,258.3 C295.2,258.2 294.5,257.8 294.3,257.6 C292.8,256 292,254 291.6,251.6 C290.6,248 290.1,245 290,241.1 C289.9,238 290.1,235 290.3,231.8 Z" fill="#c8262a"/>
<path d="M291.6,251.6 C292,254 292.8,256 294.3,257.6 C296,258.6 298.5,258.5 302.2,256.3 C306.5,253 311.5,250 316.7,246.4 C320,244 323.5,241.5 328.6,239.8 C333,238.5 337.5,236 341.8,232.5 C336,234.5 330,236 324,237.5 C316,240 310,243.5 303,248 C298.5,250.8 295,251.8 291.6,251.6 Z" fill="#a91b20"/>
<path d="M326,223.2 C331,223.5 338,223.6 343.5,224.3 C345,226 343.5,228 341,229.5 C336,230.5 331,229.5 327.5,227.5 C326,226 325.5,224.5 326,223.2 Z" fill="#d94442" opacity="0.8"/>
<path d="M322.8,222.4 C323.6,228 323.8,234 322.6,240.4" fill="none" stroke="#f0b030" stroke-width="1.1"/>
<circle cx="295" cy="231" r="1.75" fill="#e5b2a1" stroke="#c7877c" stroke-width="0.3"/>
<circle cx="297.5" cy="229" r="1.75" fill="#e5b2a1" stroke="#c7877c" stroke-width="0.3"/>
<circle cx="300.5" cy="228.5" r="1.75" fill="#e5b2a1" stroke="#c7877c" stroke-width="0.3"/>
<circle cx="303.5" cy="229.5" r="1.75" fill="#e5b2a1" stroke="#c7877c" stroke-width="0.3"/>
<circle cx="305.5" cy="231.5" r="1.75" fill="#e5b2a1" stroke="#c7877c" stroke-width="0.3"/>
<circle cx="306.5" cy="234.5" r="1.75" fill="#e5b2a1" stroke="#c7877c" stroke-width="0.3"/>
<circle cx="304.5" cy="237" r="1.75" fill="#e5b2a1" stroke="#c7877c" stroke-width="0.3"/>
<circle cx="301.5" cy="238.5" r="1.75" fill="#e5b2a1" stroke="#c7877c" stroke-width="0.3"/>
<circle cx="298.5" cy="238" r="1.75" fill="#e5b2a1" stroke="#c7877c" stroke-width="0.3"/>
<circle cx="295.5" cy="236" r="1.75" fill="#e5b2a1" stroke="#c7877c" stroke-width="0.3"/>
<circle cx="294" cy="233.5" r="1.75" fill="#e5b2a1" stroke="#c7877c" stroke-width="0.3"/>
<circle cx="298" cy="233" r="1.75" fill="#e5b2a1" stroke="#c7877c" stroke-width="0.3"/>
<circle cx="301" cy="232" r="1.75" fill="#e5b2a1" stroke="#c7877c" stroke-width="0.3"/>
<circle cx="303" cy="234.5" r="1.75" fill="#e5b2a1" stroke="#c7877c" stroke-width="0.3"/>
<circle cx="299.5" cy="235.5" r="1.75" fill="#e5b2a1" stroke="#c7877c" stroke-width="0.3"/>
<circle cx="311.5" cy="225.5" r="1.75" fill="#e5b2a1" stroke="#c7877c" stroke-width="0.3"/>
<circle cx="313.5" cy="223.8" r="1.75" fill="#e5b2a1" stroke="#c7877c" stroke-width="0.3"/>
<circle cx="316" cy="224.5" r="1.75" fill="#e5b2a1" stroke="#c7877c" stroke-width="0.3"/>
<circle cx="315" cy="227" r="1.75" fill="#e5b2a1" stroke="#c7877c" stroke-width="0.3"/>
<circle cx="312.5" cy="227.5" r="1.75" fill="#e5b2a1" stroke="#c7877c" stroke-width="0.3"/>
<path d="M164.6,274.2 C168.5,274.9 173,274.9 177,274.2 C177.4,276 177.8,277.6 178.8,278.6 C181,280 184,280.6 186.7,281.3 C189.5,282 191.8,283.2 193.8,284.8 C195.5,286 196.7,287.5 197.4,289.3 C198.5,291.5 199,294 199.1,296.4 L199.1,300.8 C197.5,302.2 195.6,302.7 193.8,302.6 C192.2,302.6 190.7,302.2 189.4,301.7 C188.3,304.5 187.9,307.5 187.6,310.5 L186.7,319.4 L186.2,333 L156.6,333 L155.7,319.4 L154.8,310.5 C154.5,307.5 154.1,304.5 153.1,301.7 C151.8,302.2 150.3,302.6 148.7,302.6 C146.9,302.7 145,302.2 143.3,300.8 L143.3,296.4 C143.4,294 143.9,291.5 145.1,289.3 C145.8,287.5 147,286 148.6,284.8 C150.6,283.2 152.9,282 155.7,281.3 C158.4,280.6 161.4,280 162.8,278.6 C163.8,277.6 164.2,276 164.6,274.2 Z" fill="#f3d2b4"/>
<path d="M170.2,314.5 C171,316 170.5,318 170.8,320 C171,322.5 170.6,324.5 170.9,326.5 L172.3,326.5 C172.6,324.5 172.2,322.5 172.4,320 C172.7,318 172.2,316 173,314.5 C172.2,313.8 171,313.8 170.2,314.5 Z" fill="#f3c27c"/>
<path d="M165.8,308.8 C161.70000000000002,308.6 160.70000000000002,313 160.8,317.6 C160.9,322.5 162.3,326.6 166.10000000000002,326.5 C169.10000000000002,326.4 169.60000000000002,323.5 168.5,321.5 C167.5,320 167.4,318.6 168.10000000000002,317.6 C167.20000000000002,316.6 167.3,315 168.3,313.8 C169.60000000000002,311.8 168.8,308.9 165.8,308.8 Z" fill="#e0717a"/>
<path d="M164.10000000000002,311 C161.9,312 161.70000000000002,316 161.9,318.5 C162.10000000000002,321.5 163.10000000000002,324.2 165.5,324.5 C166.9,322.5 166.10000000000002,320.5 165.5,318 C165.10000000000002,315.5 165.5,312.5 164.10000000000002,311 Z" fill="#eb959c"/>
<path d="M176.8,308.8 C180.9,308.6 181.9,313 181.8,317.6 C181.70000000000002,322.5 180.3,326.6 176.5,326.5 C173.5,326.4 173.0,323.5 174.10000000000002,321.5 C175.10000000000002,320 175.20000000000002,318.6 174.5,317.6 C175.4,316.6 175.3,315 174.3,313.8 C173.0,311.8 173.8,308.9 176.8,308.8 Z" fill="#e0717a"/>
<path d="M178.5,311 C180.70000000000002,312 180.9,316 180.70000000000002,318.5 C180.5,321.5 179.5,324.2 177.10000000000002,324.5 C175.70000000000002,322.5 176.5,320.5 177.10000000000002,318 C177.5,315.5 177.10000000000002,312.5 178.5,311 Z" fill="#eb959c"/>
<path d="M361,339 C361.5,335.8 365,334.5 371,332.5 C374,331.5 375.5,329.5 375.5,326 L388,326 C388,329.5 389.5,331.5 392.5,332.5 C398.5,334.5 402,335.8 402.5,339 Z" fill="#f6dac6"/>
<path d="M375,316 L388.5,316 L388.5,328 C385,330.5 378.5,330.5 375,328 Z" fill="#f1cfb4"/>
<path d="M381.7,278.5 C376.5,278.5 373.5,279.5 371.5,281.1 C368.5,283 366.5,285.3 365.6,287.8 C364,290.5 363.4,293.5 363.1,296.3 C362.5,299.5 362.2,303 362.2,306.4 C362.3,310.5 362.6,314.5 363.1,318.3 C363.4,321.5 363.6,324.5 363.9,326.7 C364.8,328 366,328.6 367.3,328.4 C368.8,328.2 370.3,327.5 371.5,326.7 L392.6,326.7 C393.8,327.5 394.8,328.2 396,328.4 C397.5,328.6 398.8,328 399.4,326.7 C399.8,324 400.1,321.5 400.3,318.3 C400.9,314.5 401.4,310.5 401.6,306.4 C401.6,303 401.5,299.5 401.1,296.3 C400.5,293.5 399.8,290.5 398.6,287.8 C397,285.3 394.8,283 391.8,281.1 C389.5,279.5 386.5,278.5 381.7,278.5 Z" fill="#785a4c"/>
<ellipse cx="364.9" cy="307.3" rx="2.4" ry="3.2" fill="#efc7ab"/>
<ellipse cx="398.5" cy="307.3" rx="2.4" ry="3.2" fill="#efc7ab"/>
<path d="M378.3,286.1 C375.5,290.5 371.5,295 367.3,298.5 C366.8,303 367,308.5 369,313.2 C370.3,316.5 371.8,318.5 373.2,320 C375.5,322 378.5,323.3 381.7,323.4 C385,323.3 388.5,322 391,320 C392.7,318.3 394.2,316 395.2,313.2 C396.6,309 396.6,305 396,301.4 C395.6,298.5 395.2,296.5 394.3,294.6 C392.5,292.3 390,291.2 387.6,290.4 C385,289.5 382.5,288.5 380.3,286.5 Z" fill="#f5d6be"/>
<path d="M367.8,307 C370,305.6 372.5,305.7 375,307 C377,308.2 378.5,308.6 379.8,308.3 C381,308 381.9,308 382.8,308.3 C384.5,308.8 386.2,308.2 388.2,307 C390.5,305.6 393,305.3 395.3,306.8 C395,309.8 393.5,312.8 391,314 C388.5,315 386.3,313.8 384.2,312.7 C382.6,311.9 380.8,311.9 379.2,312.7 C377.1,313.8 374.8,315 372.3,314 C369.8,312.8 368.2,309.8 367.8,307 Z" fill="#f6a2b0"/>
</svg>
</body></html>
